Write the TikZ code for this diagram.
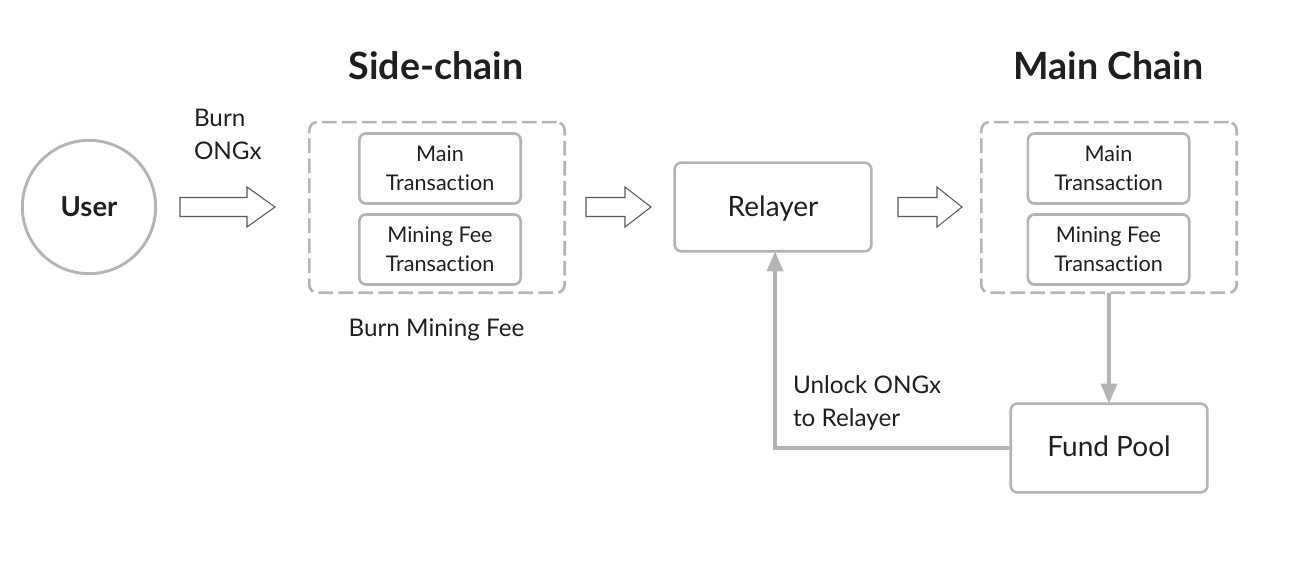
\documentclass[tikz,border=0pt]{standalone}
\usepackage{fontspec}
\setmainfont{Lato}[Ligatures={NoCommon,TeX}]
\usetikzlibrary{arrows.meta}
\definecolor{edge}{HTML}{B4B4B4}
\definecolor{ink}{HTML}{1F1F1F}
\tikzset{
  x=0.75pt,y=-0.75pt,
  every node/.style={text=ink,inner sep=0pt,outer sep=0pt,align=center},
  box/.style={draw=edge,line width=2pt,rounded corners=5pt,minimum width=147.5pt,minimum height=66.5pt,font=\fontsize{21}{24}\selectfont,text height=16pt,text depth=4pt},
  txbox/.style={draw=edge,line width=2pt,rounded corners=5pt,minimum width=121pt,minimum height=52.5pt,font=\fontsize{16.2}{22}\selectfont},
  group/.style={draw=edge,line width=2pt,dash pattern=on 11pt off 4pt,rounded corners=6pt,minimum width=191.5pt,minimum height=128pt},
  title/.style={font=\fontsize{28.2}{32}\selectfont\bfseries},
  lbl/.style={font=\fontsize{18.2}{24.5}\selectfont,align=left},
  conn/.style={draw=edge,line width=2.5pt,-{Triangle[length=15pt,width=12pt]}},
  blockarrow/.style={draw=black!65,line width=0.8pt,fill=white,line join=miter}
}
\begin{document}
\begin{tikzpicture}
\useasboundingbox (0,0) rectangle (1298,580);
\node[draw=edge,line width=2.2pt,circle,minimum size=100pt,font=\fontsize{20.6}{24}\selectfont\bfseries] (user) at (89,207) {User};
\node[title] (t1) at (436,66) {Side-chain};
\node[title] (t2) at (1108.5,66) {Main Chain};
\node[lbl,anchor=west] (burn) at (194,134.5) {Burn\\ONGx};
\node[group] (g1) at (437,207.5) {};
\node[txbox] (m1) at (440,168.5) {Main\\Transaction};
\node[txbox] (f1) at (440,249.5) {Mining Fee\\Transaction};
\node[lbl] (fee) at (436.5,330) {Burn Mining Fee};
\node[box,text depth=1pt] (rel) at (773,207) {Relayer};
\node[group] (g2) at (1109,207.5) {};
\node[txbox] (m2) at (1108.5,168.5) {Main\\Transaction};
\node[txbox] (f2) at (1108.5,249.5) {Mining Fee\\Transaction};
\node[box] (pool) at (1109,448) {Fund Pool};
\node[lbl,anchor=west] (unlock) at (793,403) {Unlock ONGx\\to Relayer};
\draw[blockarrow] (180,197.5) -- (247,197.5) -- (247,187) -- (275,207) -- (247,227) -- (247,216.5) -- (180,216.5) -- cycle;
\draw[blockarrow] (586,197.5) -- (625,197.5) -- (625,187) -- (651,207) -- (625,227) -- (625,216.5) -- (586,216.5) -- cycle;
\draw[blockarrow] (898,197.5) -- (937,197.5) -- (937,187) -- (962,207) -- (937,227) -- (937,216.5) -- (898,216.5) -- cycle;
\draw[conn] (g2.south) -- (pool.north);
\draw[conn] (pool.west) -| ([xshift=1.5pt]rel.south);
\end{tikzpicture}
\end{document}
